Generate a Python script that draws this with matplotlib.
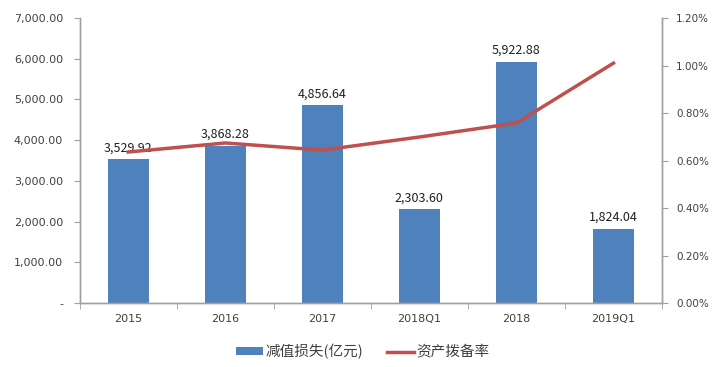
import matplotlib
matplotlib.use('Agg')
import matplotlib.pyplot as plt
from matplotlib.ticker import FuncFormatter, FixedLocator
import numpy as np

plt.rcParams['font.family'] = ['Noto Sans CJK SC', 'DejaVu Sans']

# Data
categories = ['2015', '2016', '2017', '2018Q1', '2018', '2019Q1']
impairment = [3529.92, 3868.28, 4856.64, 2303.60, 5922.88, 1824.04]   # 减值损失(亿元)
provision_rate = [0.636, 0.674, 0.644, 0.699, 0.758, 1.01]            # 资产拨备率 (%)
bar_labels = ['3,529.92', '3,868.28', '4,856.64', '2,303.60', '5,922.88', '1,824.04']

bar_color = '#4F81BD'
line_color = '#C0504D'
axis_color = '#A0A0A0'
text_color = '#404040'

fig = plt.figure(figsize=(7.18, 3.67), dpi=100)
ax = fig.add_axes([0.111, 0.174, 0.811, 0.777])
ax2 = ax.twinx()

x = np.arange(len(categories))
bars = ax.bar(x, impairment, width=0.42, color=bar_color, label='减值损失(亿元)', zorder=2)
line, = ax2.plot(x, provision_rate, color=line_color, linewidth=2.5, label='资产拨备率', zorder=3)

# data labels
for xi, v, s in zip(x, impairment, bar_labels):
    ax.text(xi, v + 120, s, ha='center', va='bottom', fontsize=9, color='#202020', zorder=5)

ax.set_xlim(-0.5, len(categories) - 0.5)
ax.set_ylim(0, 7000)
ax2.set_ylim(0, 1.2)

ax.set_yticks(np.arange(0, 7001, 1000))
ax.yaxis.set_major_formatter(FuncFormatter(lambda v, p: '-' if v == 0 else f'{v:,.2f}'))
ax2.set_yticks(np.arange(0, 1.21, 0.2))
ax2.yaxis.set_major_formatter(FuncFormatter(lambda v, p: f'{v:.2f}%'))

ax.set_xticks(x)
ax.set_xticklabels(categories, family='DejaVu Sans')
for lbl in ax.get_yticklabels():
    lbl.set_family('DejaVu Sans')
for lbl in ax2.get_yticklabels():
    lbl.set_family('DejaVu Sans')
ax.xaxis.set_minor_locator(FixedLocator(np.arange(-0.5, len(categories), 1.0)))
ax.tick_params(axis='x', which='major', length=0, pad=8, labelsize=8, labelcolor=text_color)
ax.tick_params(axis='x', which='minor', length=4, color=axis_color, direction='out')
ax.tick_params(axis='y', length=4, color=axis_color, labelsize=8, labelcolor=text_color, pad=8)
ax2.tick_params(axis='y', length=4, color=axis_color, labelsize=7.5, labelcolor=text_color, pad=6)

for a in (ax, ax2):
    a.spines['top'].set_visible(False)
    for side in ('left', 'right', 'bottom'):
        a.spines[side].set_color(axis_color)
        a.spines[side].set_linewidth(1.0)

fig.legend([bars, line], ['减值损失(亿元)', '资产拨备率'], loc='center', ncol=2,
           bbox_to_anchor=(0.505, 0.041), frameon=False, fontsize=10.5,
           handlelength=1.9, handleheight=0.45, columnspacing=1.6, handletextpad=0.15,
           labelcolor=text_color)

fig.savefig('out.png', dpi=100)
